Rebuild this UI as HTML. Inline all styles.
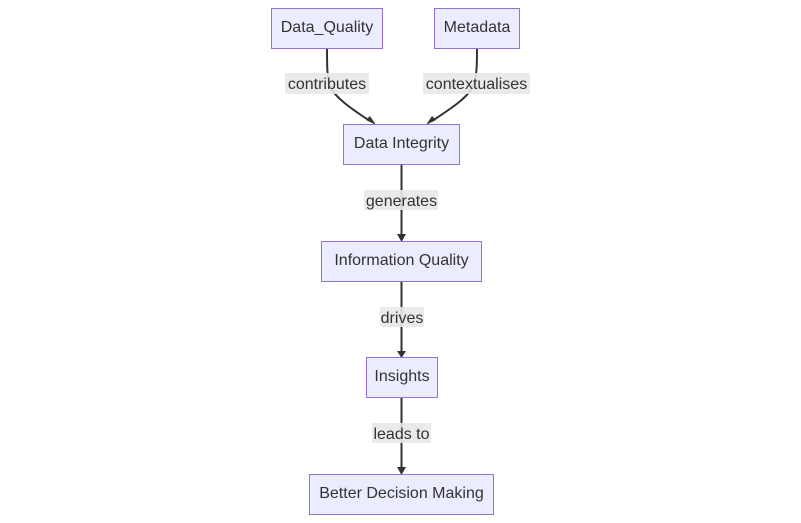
<!DOCTYPE html>
<html><head><meta charset="utf-8"><style>
html,body{margin:0;padding:0;background:#fff;width:801px;height:523px;overflow:hidden}
svg{display:block}
text{font-family:"Liberation Sans",sans-serif;font-size:16px;fill:#333;}
.n{fill:#ECECFF;stroke:#9370DB;stroke-width:1}
.e{fill:none;stroke:#333;stroke-width:2}
.lb{fill:#e8e8e8;opacity:0.9}
</style></head><body>
<svg width="801" height="523" viewBox="0 0 801 523" xmlns="http://www.w3.org/2000/svg">
<!-- edges -->
<path class="e" d="M327,48 C327,62 327,74 329,84 C333,96 350,108 370,121" />
<path class="e" d="M477,48 C477,62 477,74 474,84 C470,96 452,108 432,121" />
<path d="M376,125 L366,120 L370,116 z" fill="#333"/>
<path d="M426,125 L432,116 L436,120 z" fill="#333"/>
<line class="e" x1="401.5" y1="165" x2="401.5" y2="236"/>
<path d="M397,234 L406,234 L401.5,242 z" fill="#333"/>
<line class="e" x1="401.5" y1="282" x2="401.5" y2="353"/>
<path d="M397,351 L406,351 L401.5,358 z" fill="#333"/>
<line class="e" x1="401.5" y1="398" x2="401.5" y2="469"/>
<path d="M397,467 L406,467 L401.5,475 z" fill="#333"/>
<!-- edge labels -->
<rect class="lb" x="285" y="73" width="84" height="21"/>
<text x="327" y="89" text-anchor="middle">contributes</text>
<rect class="lb" x="423" y="73" width="107" height="21"/>
<text x="476.5" y="89" text-anchor="middle">contextualises</text>
<rect class="lb" x="364" y="190" width="74" height="20"/>
<text x="401.5" y="206" text-anchor="middle">generates</text>
<rect class="lb" x="380" y="307" width="44" height="20"/>
<text x="402" y="323" text-anchor="middle">drives</text>
<rect class="lb" x="372" y="423" width="59" height="20"/>
<text x="401.5" y="439" text-anchor="middle">leads to</text>
<!-- nodes -->
<rect class="n" x="271.5" y="8.5" width="111" height="40"/>
<text x="327" y="32" text-anchor="middle">Data_Quality</text>
<rect class="n" x="434.5" y="8.5" width="85" height="40"/>
<text x="477" y="32" text-anchor="middle">Metadata</text>
<rect class="n" x="343.5" y="124.5" width="116" height="40"/>
<text x="401.5" y="148" text-anchor="middle">Data Integrity</text>
<rect class="n" x="321.5" y="241.5" width="160" height="40"/>
<text x="401.5" y="265" text-anchor="middle">Information Quality</text>
<rect class="n" x="366.5" y="357.5" width="71" height="40"/>
<text x="402" y="381" text-anchor="middle">Insights</text>
<rect class="n" x="309.5" y="474.5" width="184" height="40"/>
<text x="401.5" y="498" text-anchor="middle">Better Decision Making</text>
</svg>
</body></html>
